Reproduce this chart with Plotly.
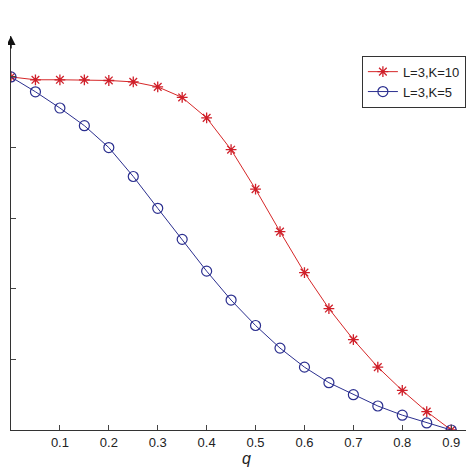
import plotly.graph_objects as go

q = [0,0.05,0.1,0.15,0.2,0.25,0.3,0.35,0.4,0.45,0.5,0.55,0.6,0.65,0.7,0.75,0.8,0.85,0.9]
red = [5.0,4.96,4.96,4.96,4.95,4.93,4.86,4.71,4.42,3.97,3.41,2.81,2.23,1.72,1.28,0.89,0.56,0.26,0.0]
blue = [5.0,4.79,4.56,4.31,4.0,3.59,3.14,2.70,2.25,1.84,1.48,1.16,0.89,0.67,0.50,0.34,0.21,0.10,0.0]
xticks = [0,0.1,0.2,0.3,0.4,0.5,0.6,0.7,0.8,0.9]
xlabels = ["0","0.1","0.2","0.3","0.4","0.5","0.6","0.7","0.8","0.9"]

fig = go.Figure()
fig.add_trace(go.Scatter(x=q, y=red, mode="lines+markers", name="L=3,K=10",
    line=dict(color="#d62728", width=1), marker=dict(symbol="asterisk-open", size=9, color="#d0202a", line=dict(width=1.3, color="#d0202a"))))
fig.add_trace(go.Scatter(x=q, y=blue, mode="lines+markers", name="L=3,K=5",
    line=dict(color="#2b2f8f", width=1), marker=dict(symbol="circle-open", size=10, color="#2b2f8f", line=dict(width=1.2, color="#2b2f8f"))))

fig.update_layout(width=474, height=474, margin=dict(l=3, r=0, t=28, b=52),
    plot_bgcolor="white", paper_bgcolor="white", font=dict(family="Liberation Sans", size=13, color="#222"),
    legend=dict(x=0.745, y=0.95, xanchor="left", yanchor="top", bordercolor="#333", borderwidth=1,
                bgcolor="white", font=dict(size=13)),
    xaxis=dict(range=[0,0.963], tickvals=xticks, ticktext=xlabels, ticks="inside", ticklen=5,
               showgrid=False, zeroline=False, showline=True, linecolor="#333",
               title=dict(text="<i>q</i>", standoff=4)),
    yaxis=dict(range=[0,5.58], tickvals=[1,2,3,4,5], ticks="inside", ticklen=5, showticklabels=False,
               showgrid=False, zeroline=False, showline=True, linecolor="#333"))
fig.add_annotation(x=0, y=5.58, xref="x", yref="y", ax=0, ay=14, showarrow=True, arrowhead=2,
    arrowsize=1.2, arrowwidth=1.5, arrowcolor="#111", text="")
fig.write_html("out.html")
